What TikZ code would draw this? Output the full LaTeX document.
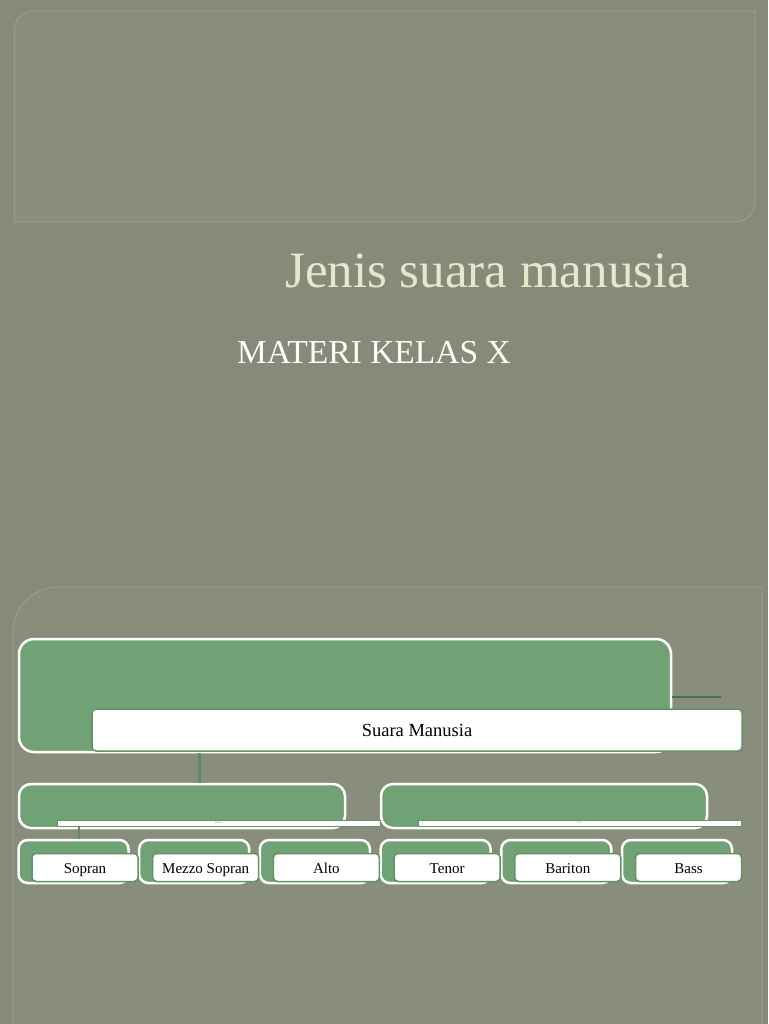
\documentclass[tikz,border=0pt]{standalone}
\usepackage{fontspec}
\setmainfont{Liberation Serif}
\usepackage{tikz}
\usetikzlibrary{positioning}
\usetikzlibrary{calc}

\definecolor{latar}{HTML}{868A78}
\definecolor{panel}{HTML}{898D7B}
\definecolor{tepi}{HTML}{999D8B}
\definecolor{hijau}{HTML}{70A276}
\definecolor{bingkai}{HTML}{5F9566}
\definecolor{garis}{HTML}{5B8F61}
\definecolor{gelap}{HTML}{4D6B50}
\definecolor{krem}{HTML}{E4E8CC}

\begin{document}
\begin{tikzpicture}[x=1pt,y=-1pt,node distance=120.7pt,on grid,
		kotak/.style={rectangle,rounded corners=12pt,fill=hijau,draw=white,line width=2.5pt},
		daun/.style={rectangle,rounded corners=9pt,fill=hijau,draw=white,line width=2.5pt,minimum width=110,minimum height=43},
		label/.style={rectangle,rounded corners=4pt,fill=white,draw=bingkai,line width=1.5pt,inner sep=0pt,
			text height=12.5pt,text depth=1.5pt,font=\fontsize{15}{15}\selectfont},
		pita/.style={rectangle,fill=white,draw=bingkai,line width=0.8pt,inner sep=0pt,minimum height=6,font=\fontsize{2.5}{2.5}\selectfont\color{gray}},
		link/.style={draw=garis,line width=3pt}]
		\fill[latar] (0,0) rectangle (768,1024);
		\useasboundingbox (0,0) rectangle (768,1024);
		
		% panel atas dan bawah
		\filldraw[fill=panel,draw=tepi,line width=1pt] (14,222) -- (14,31) arc[start angle=180,end angle=90,radius=20pt]
			-- (755,11) -- (755,202) arc[start angle=0,end angle=-90,radius=20pt] -- cycle;
		\filldraw[fill=panel,draw=tepi,line width=1pt] (13,1030) -- (13,632) arc[start angle=180,end angle=90,radius=45pt]
			-- (762,587) -- (762,1030);
		
		\node[anchor=base west,inner sep=0pt,text=krem,font=\fontsize{51}{51}\selectfont] (judul) at (285,287) {Jenis suara manusia};
		\node[anchor=base west,inner sep=0pt,text=white!94!krem,font=\fontsize{33.5}{33.5}\selectfont] (materi) at (237,363) {MATERI KELAS X};
		
		% bagan
		\node[kotak,rounded corners=15pt,minimum width=652,minimum height=113] (akar) at (345,695.5) {};
		\coordinate (ujung) at (721,697);
		\draw[gelap,line width=1.5pt] (akar.east |- ujung) -- (ujung);
		\node[label,minimum width=650,minimum height=42,text height=15pt,text depth=2pt,font=\fontsize{18.5}{18.5}\selectfont] (judulakar) at (417,730) {Suara Manusia};
		
		\node[kotak,minimum width=326,minimum height=44] (wanita) at (182,806) {};
		\node[kotak,minimum width=326,minimum height=44] (pria) at (544,806) {};
		\node[pita,minimum width=323] (pwanita) at (218.5,823) {Wanita};
		\node[pita,minimum width=323] (ppria) at (579.5,823) {Pria};
		\draw[link] ([xshift=17pt]wanita.north) -- ([xshift=17pt]wanita.north |- akar.south);
		
		\node[daun] (d1) at (73.5,861.5) {};
		\node[daun] (d2) [right=of d1] {};
		\node[daun] (d3) [right=of d2] {};
		\node[daun] (d4) [right=of d3] {};
		\node[daun] (d5) [right=of d4] {};
		\node[daun] (d6) [right=of d5] {};
		\draw[garis,line width=1.5pt] ([xshift=5.5pt]d1.north) -- ([xshift=5.5pt]d1.north |- pwanita.south);
		
		\node[label,anchor=south east,minimum width=106,minimum height=28] (t1) at ([xshift=9pt,yshift=2pt]d1.south east) {Sopran};
		\node[label,anchor=south east,minimum width=106,minimum height=28] (t2) at ([xshift=9pt,yshift=2pt]d2.south east) {Mezzo Sopran};
		\node[label,anchor=south east,minimum width=106,minimum height=28] (t3) at ([xshift=9pt,yshift=2pt]d3.south east) {Alto};
		\node[label,anchor=south east,minimum width=106,minimum height=28] (t4) at ([xshift=9pt,yshift=2pt]d4.south east) {Tenor};
		\node[label,anchor=south east,minimum width=106,minimum height=28] (t5) at ([xshift=9pt,yshift=2pt]d5.south east) {Bariton};
		\node[label,anchor=south east,minimum width=106,minimum height=28] (t6) at ([xshift=9pt,yshift=2pt]d6.south east) {Bass};
\end{tikzpicture}
\end{document}
